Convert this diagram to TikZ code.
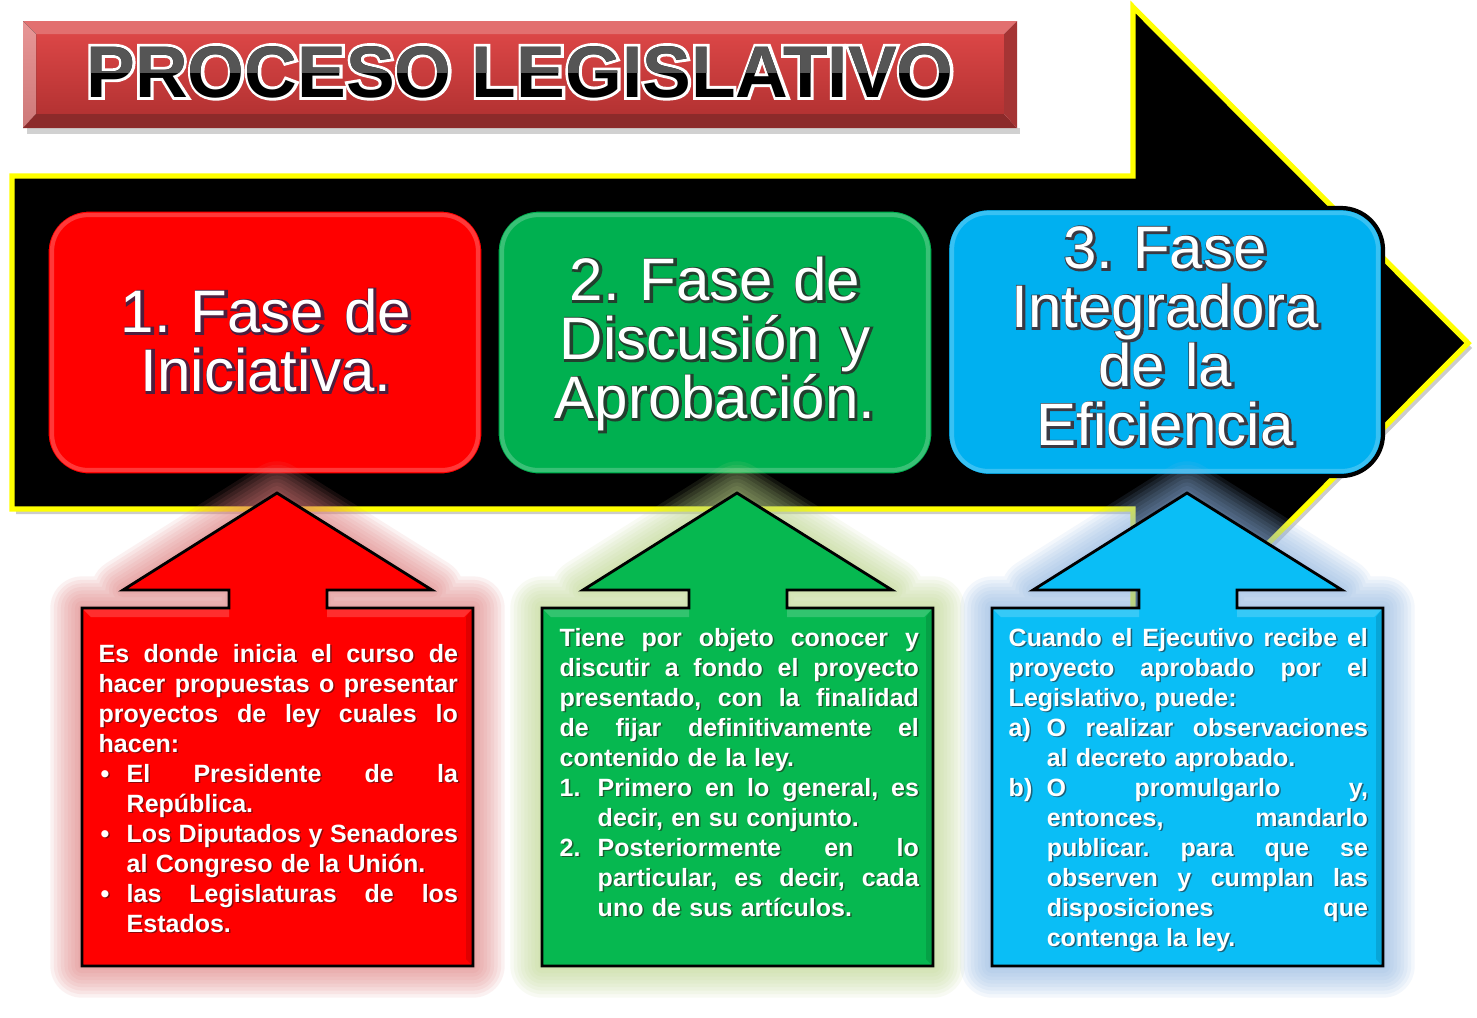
\documentclass[tikz,border=0pt]{standalone}
\usepackage{fontspec}
\setmainfont{Liberation Sans}
\newfontfamily\titleout[FakeBold=8]{Liberation Sans Bold}
\newfontfamily\phaseout[FakeBold=6]{Liberation Sans}
\definecolor{fred}{HTML}{FF0000}
\definecolor{fgreen}{HTML}{00B050}
\definecolor{fblue}{HTML}{00B0F0}
\definecolor{cblue}{HTML}{0ABEF6}
\definecolor{cgreen}{HTML}{06B850}
\definecolor{gred}{HTML}{E07A7A}
\definecolor{ggreen}{HTML}{BCD68A}
\definecolor{gblue}{HTML}{8DB3E2}
\definecolor{ayellow}{HTML}{FFFF00}
\definecolor{outred}{HTML}{4E1E3E}
\definecolor{outgreen}{HTML}{22402E}
\definecolor{outblue}{HTML}{3A3A44}
\definecolor{barface1}{RGB}{219,70,70}
\definecolor{barface2}{RGB}{180,50,50}
\definecolor{bartop}{RGB}{226,111,111}
\definecolor{barleft1}{RGB}{232,150,150}
\definecolor{barleft2}{RGB}{205,120,120}
\definecolor{barbottom}{RGB}{140,42,42}
\definecolor{barright}{RGB}{165,52,52}
\definecolor{titlegrey}{RGB}{85,85,85}
\definecolor{textshadow}{RGB}{40,20,20}
\newcommand\cjl[1]{\makebox[3.59cm][s]{\spaceskip=0pt\xspaceskip=0pt\relax #1}}
\newcommand\cji[3]{\makebox[#1][l]{#2}\makebox[\dimexpr3.59cm-#1\relax][s]{\spaceskip=0pt\xspaceskip=0pt\relax #3}}
\newcommand\cli[3]{\makebox[#1][l]{#2}#3}
\newcommand\calloutpath{(82,608) -- (229,608) -- (229,590) -- (123,590) -- (277,493) -- (432,590) -- (327,590) -- (327,608) -- (473,608) -- (473,966) -- (82,966) -- cycle}
\newcommand\bodysize{\fontsize{7.11pt}{8.536pt}\selectfont\frenchspacing}
\newcommand\phasesize{\fontsize{17.07pt}{16.79pt}\selectfont\frenchspacing}
\newcommand\titlesize{\fontsize{20.77pt}{24pt}\selectfont}
\newcommand\redbody{%
\cjl{Es donde inicia el curso de}\\
\cjl{hacer propuestas o presentar}\\
\cjl{proyectos de ley cuales lo}\\
hacen:\\
\cji{0.28cm}{\hspace{0.02cm}•}{El Presidente de la}\\
\cli{0.28cm}{}{República.}\\
\cji{0.28cm}{\hspace{0.02cm}•}{Los Diputados y Senadores}\\
\cli{0.28cm}{}{al Congreso de la Unión.}\\
\cji{0.28cm}{\hspace{0.02cm}•}{las Legislaturas de los}\\
\cli{0.28cm}{}{Estados.}}
\newcommand\greenbody{%
\cjl{Tiene por objeto conocer y}\\
\cjl{discutir a fondo el proyecto}\\
\cjl{presentado, con la finalidad}\\
\cjl{de fijar definitivamente el}\\
contenido de la ley.\\
\cji{0.38cm}{1.}{Primero en lo general, es}\\
\cli{0.38cm}{}{decir, en su conjunto.}\\
\cji{0.38cm}{2.}{Posteriormente en lo}\\
\cji{0.38cm}{}{particular, es decir, cada}\\
\cli{0.38cm}{}{uno de sus artículos.}}
\newcommand\bluebody{%
\cjl{Cuando el Ejecutivo recibe el}\\
\cjl{proyecto aprobado por el}\\
Legislativo, puede:\\
\cji{0.38cm}{a)}{O realizar observaciones}\\
\cli{0.38cm}{}{al decreto aprobado.}\\
\cji{0.38cm}{b)}{O promulgarlo y,}\\
\cji{0.38cm}{}{entonces, mandarlo}\\
\cji{0.38cm}{}{publicar. para que se}\\
\cji{0.38cm}{}{observen y cumplan las}\\
\cji{0.38cm}{}{disposiciones que}\\
\cli{0.38cm}{}{contenga la ley.}}
\tikzset{
  phasetext/.style={anchor=base, align=center, text width=4.2cm, inner sep=0pt},
  bodytext/.style={anchor=base west, align=left, text width=3.59cm, inner sep=0pt, text=white, font=\bfseries\bodysize},
  bodyshadow/.style={bodytext, text=textshadow, text opacity=0.55},
  calloutshape/.style={draw=black, line width=0.8pt, line join=miter},
  topbox/.style={draw=black, line width=0.9pt, rounded corners=0.42cm},
  rim/.style={draw=white, line width=1.2pt, opacity=0.22, rounded corners=0.36cm}
}
\begin{document}
\begin{tikzpicture}[x=0.01cm, y=-0.01cm]
\useasboundingbox (0,0) rectangle (1477,1017);
\fill[white] (0,0) rectangle (1477,1017);

% ---------- title bar ----------
\fill[black, opacity=0.18] (27,128) rectangle (1020,134);
\fill[top color=barface1, bottom color=barface2] (36,34) rectangle (1004,114);
\fill[bartop] (23,21) -- (1017,21) -- (1004,34) -- (36,34) -- cycle;
\fill[top color=barleft1, bottom color=barleft2] (23,21) -- (36,34) -- (36,114) -- (23,128) -- cycle;
\fill[barbottom] (23,128) -- (36,114) -- (1004,114) -- (1017,128) -- cycle;
\fill[barright] (1017,21) -- (1004,34) -- (1004,114) -- (1017,128) -- cycle;
\node[anchor=base, inner sep=0pt, text=white, font=\titleout\titlesize] (titleoutline) at (520,97) {PROCESO LEGISLATIVO};
\node[anchor=base, inner sep=0pt, text=black, font=\bfseries\titlesize] (title) at (520,97) {PROCESO LEGISLATIVO};
\begin{scope}
  \clip (0,0) rectangle (1477,72);
  \node[anchor=base, inner sep=0pt, text=titlegrey, font=\bfseries\titlesize] (titlegloss) at (520,97) {PROCESO LEGISLATIVO};
\end{scope}

% ---------- big arrow ----------
\fill[black, opacity=0.2] (16,181) -- (1137,181) -- (1137,12) -- (1472,348) -- (1137,684) -- (1137,514) -- (16,514) -- cycle;
\draw[fill=black, draw=ayellow, line width=1.5pt, line join=miter] (12,176) -- (1133,176) -- (1133,7) -- (1468,343) -- (1133,679) -- (1133,509) -- (12,509) -- cycle;

% ---------- top phase boxes ----------
\draw[topbox, fill=fred] (47,210) rectangle (483,475);
\draw[rim] (52,215) rectangle (478,470);
\draw[topbox, fill=fgreen] (497,210) rectangle (933,475);
\draw[rim] (502,215) rectangle (928,470);
\draw[topbox, fill=fblue, line width=1.2pt] (947,208) rectangle (1383,476);
\draw[rim] (952,213) rectangle (1378,471);

\node[phasetext, text=outred, font=\phaseout\phasesize] (p1o) at (267,333) {1. Fase de\\Iniciativa.};
\node[phasetext, text=white, font=\phasesize] (p1) at (266,332) {1. Fase de\\Iniciativa.};
\node[phasetext, text=outgreen, font=\phaseout\phasesize] (p2o) at (716,301) {2. Fase de\\Discusión y\\Aprobación.};
\node[phasetext, text=white, font=\phasesize] (p2) at (715,300) {2. Fase de\\Discusión y\\Aprobación.};
\node[phasetext, text=outblue, font=\phaseout\phasesize] (p3o) at (1166,269) {3. Fase\\Integradora\\de la\\Eficiencia};
\node[phasetext, text=white, font=\phasesize] (p3) at (1165,268) {3. Fase\\Integradora\\de la\\Eficiencia};

% ---------- glows ----------
\foreach \sx/\gc in {0/gred, 460/ggreen, 910/gblue}{
  \begin{scope}[xshift=\sx*0.01cm]
    \foreach \w in {18,16,14,12,10,8,6,4,2}{
      \draw[\gc, line width=\w pt, opacity=0.1, line join=round] \calloutpath;
    }
  \end{scope}
}

% ---------- callouts ----------
\foreach \sx/\fc in {0/fred, 460/cgreen, 910/cblue}{
  \begin{scope}[xshift=\sx*0.01cm]
    \fill[\fc] \calloutpath;
    \fill[white, opacity=0.18] (83,609) -- (229,609) -- (229,617) -- (91,617) -- cycle;
    \fill[white, opacity=0.18] (327,609) -- (472,609) -- (464,617) -- (327,617) -- cycle;
    \fill[black, opacity=0.12] (472,609) -- (472,965) -- (466,959) -- (466,617) -- cycle;
    \draw[calloutshape] \calloutpath;
  \end{scope}
}

% ---------- callout texts ----------
\node[bodyshadow] (redshadow) at (99.5,663.5) {\redbody};
\node[bodytext] (redtext) at (98,662) {\redbody};
\node[bodyshadow] (greenshadow) at (560.5,647.5) {\greenbody};
\node[bodytext] (greentext) at (559,646) {\greenbody};
\node[bodyshadow] (blueshadow) at (1009.5,647.5) {\bluebody};
\node[bodytext] (bluetext) at (1008,646) {\bluebody};
\end{tikzpicture}
\end{document}
